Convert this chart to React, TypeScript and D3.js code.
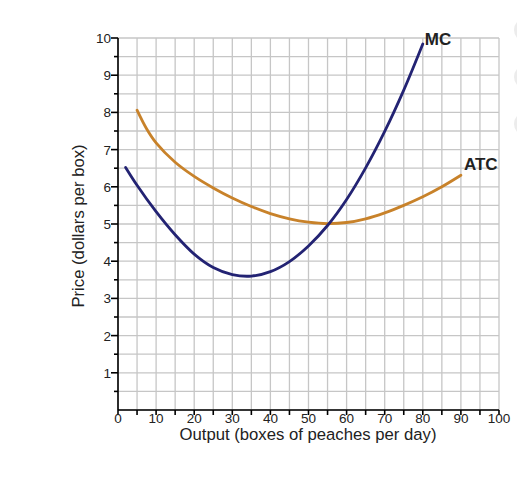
import React from "react";
import * as d3 from "d3";

const mcX = [2, 5, 10, 15, 20, 25, 30, 35, 40, 45, 50, 55, 60, 65, 70, 75, 80];
const mcY = [6.52, 6.04, 5.33, 4.71, 4.19, 3.83, 3.64, 3.6, 3.72, 3.99, 4.41, 4.96, 5.66, 6.51, 7.49, 8.6, 9.84];
const atcX = [5, 7.5, 10, 15, 20, 25, 30, 35, 40, 45, 50, 55, 60, 65, 70, 75, 80, 85, 90];
const atcY = [8.06, 7.56, 7.18, 6.66, 6.28, 5.97, 5.7, 5.47, 5.28, 5.14, 5.05, 5.01, 5.04, 5.14, 5.3, 5.5, 5.73, 6.0, 6.31];
const xTickLabels = [0, 10, 20, 30, 40, 50, 60, 70, 80, 90, 100];
const yTickLabels = [1, 2, 3, 4, 5, 6, 7, 8, 9, 10];

const FONT = "'Liberation Sans', Arial, sans-serif";

export default function App() {
  const x = d3.scaleLinear().domain([0, 100]).range([118, 499]);
  const y = d3.scaleLinear().domain([0, 10]).range([410, 38]);
  const xGrid = d3.range(0, 100.01, 5);
  const yGrid = d3.range(0, 10.01, 0.5);
  const line = d3
    .line<[number, number]>()
    .x((d) => x(d[0]))
    .y((d) => y(d[1]))
    .curve(d3.curveCatmullRom.alpha(0.5));
  const mc = line(mcX.map((v, i) => [v, mcY[i]] as [number, number])) || "";
  const atc = line(atcX.map((v, i) => [v, atcY[i]] as [number, number])) || "";

  return (
    <div style={{ position: "absolute", left: 0, top: 0 }}>
      <svg width={517} height={480} style={{ display: "block", background: "#fff" }}>
        {/* faint UI shapes at the right edge */}
        {[30, 77, 124].map((cy) => (
          <circle key={cy} cx={526} cy={cy} r={12} fill="#ececec" />
        ))}
        {/* grid */}
        <g stroke="#c6c6c6" strokeWidth={1.3}>
          {xGrid.map((v) => (
            <line key={"gx" + v} x1={x(v)} x2={x(v)} y1={y(0)} y2={y(10)} />
          ))}
          {yGrid.map((v) => (
            <line key={"gy" + v} x1={x(0)} x2={x(100)} y1={y(v)} y2={y(v)} />
          ))}
        </g>
        {/* axes */}
        <g stroke="#000" strokeWidth={1.6}>
          <line x1={x(0)} x2={x(0)} y1={y(0)} y2={y(10)} />
          <line x1={x(0)} x2={x(100)} y1={y(0)} y2={y(0)} />
          {xGrid.map((v) => (
            <line key={"tx" + v} x1={x(v)} x2={x(v)} y1={y(0)} y2={y(0) + 5} />
          ))}
          {yGrid
            .filter((v) => v > 0)
            .map((v) => (
              <line
                key={"ty" + v}
                x1={x(0)}
                x2={x(0) - (Number.isInteger(v) ? 7 : 4)}
                y1={y(v)}
                y2={y(v)}
              />
            ))}
        </g>
        {/* tick labels */}
        <g fontFamily={FONT} fontSize={13.5} fill="#222">
          {xTickLabels.map((v) => (
            <text key={"lx" + v} x={x(v)} y={y(0) + 13} textAnchor="middle">
              {v}
            </text>
          ))}
          {yTickLabels.map((v) => (
            <text key={"ly" + v} x={x(0) - 7} y={y(v) + 5} textAnchor="end">
              {v}
            </text>
          ))}
        </g>
        {/* curves */}
        <path d={atc} fill="none" stroke="#c8822a" strokeWidth={2.8} strokeLinecap="round" />
        <path d={mc} fill="none" stroke="#232373" strokeWidth={2.8} strokeLinecap="round" />
        {/* curve labels */}
        <g fontFamily={FONT} fontSize={17} fontWeight="bold" fill="#222">
          <text x={x(80) + 2} y={y(10) + 7}>MC</text>
          <text x={x(90) + 3} y={y(6.32) - 5}>ATC</text>
        </g>
        {/* axis titles */}
        <text x={308} y={440} textAnchor="middle" fontFamily={FONT} fontSize={16.7} fill="#222">
          Output (boxes of peaches per day)
        </text>
        <text
          transform="translate(84,226) rotate(-90)"
          textAnchor="middle"
          fontFamily={FONT}
          fontSize={16.7}
          fill="#222"
        >
          Price (dollars per box)
        </text>
      </svg>
    </div>
  );
}
